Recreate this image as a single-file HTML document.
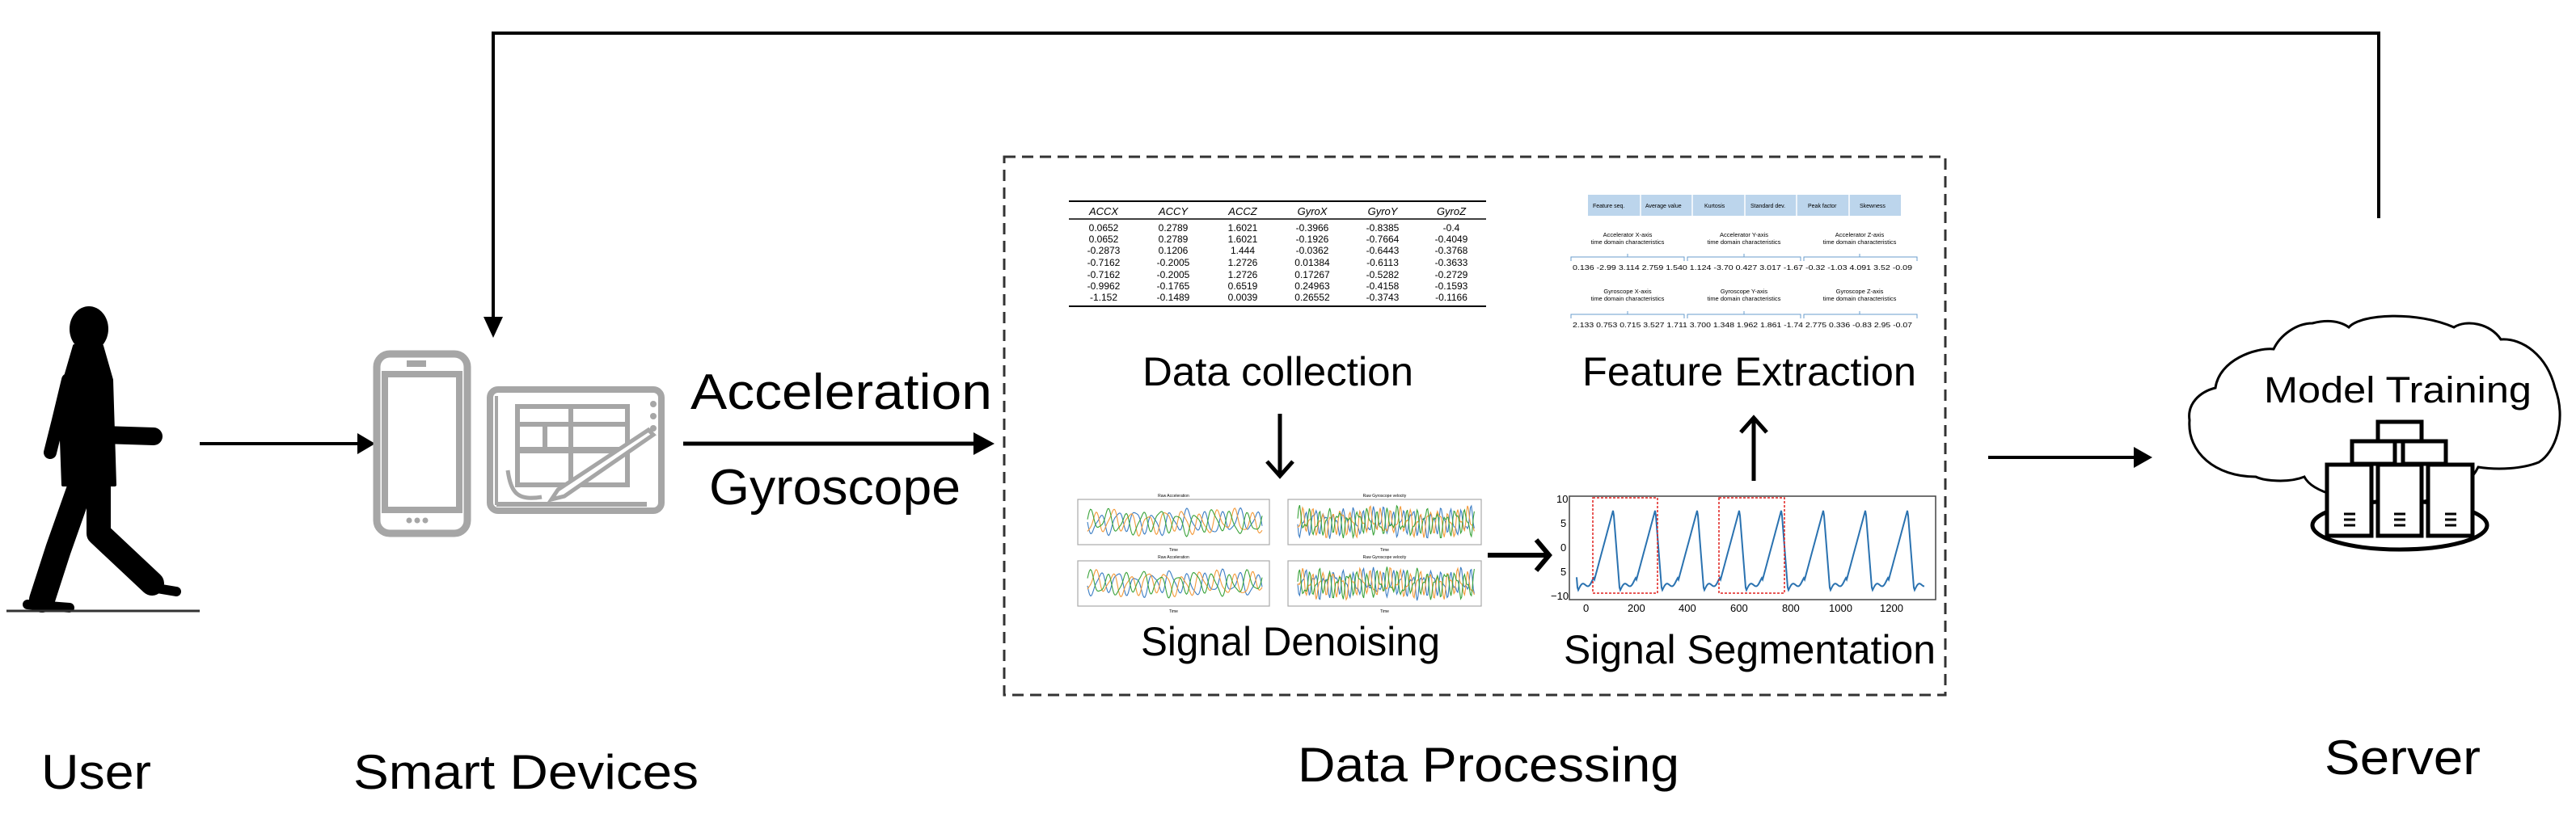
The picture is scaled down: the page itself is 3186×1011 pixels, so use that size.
<!DOCTYPE html>
<html><head><meta charset="utf-8"><style>
html,body{margin:0;padding:0;background:#fff;}
svg{display:block;}
text{font-family:"Liberation Sans",sans-serif;fill:#000;}
.ser{font-family:"Liberation Serif",serif;}
</style></head><body>
<svg id="s" width="3186" height="1011" viewBox="0 0 3186 1011" xmlns="http://www.w3.org/2000/svg">
<rect width="3186" height="1011" fill="#fff"/>

<!-- feedback line -->
<polyline points="2942,270 2942,41 610,41 610,400" fill="none" stroke="#000" stroke-width="4"/>
<path d="M598,392 L622,392 L610,418 z" fill="#000"/>

<!-- user silhouette -->
<g fill="#000" stroke="#000" stroke-linecap="round" stroke-linejoin="round">
<ellipse cx="110" cy="407" rx="24" ry="28" stroke="none"/>
<path d="M92,428 L126,428 L138,470 L142,600 L78,600 L74,490 z" stroke-width="4"/>
<path d="M122,470 L126,538 L190,540" fill="none" stroke-width="22"/>
<path d="M84,470 L72,520 L62,560" fill="none" stroke-width="16"/>
<path d="M102,595 L72,680 L52,742" fill="none" stroke-width="32"/>
<path d="M34,748 L86,752" fill="none" stroke-width="12"/>
<path d="M122,595 L122,660 L188,722" fill="none" stroke-width="30"/>
<path d="M182,726 L218,732" fill="none" stroke-width="12"/>
</g>
<line x1="8" y1="756" x2="247" y2="756" stroke="#333" stroke-width="3"/>

<!-- user -> device -->
<line x1="247" y1="549" x2="448" y2="549" stroke="#000" stroke-width="4"/>
<path d="M442,536 L464,549 L442,562 z" fill="#000"/>

<!-- phone -->
<rect x="466" y="438" width="112" height="222" rx="16" fill="none" stroke="#a6a6a6" stroke-width="9"/>
<rect x="476" y="463" width="92" height="168" fill="none" stroke="#a6a6a6" stroke-width="8"/>
<rect x="503" y="446" width="24" height="8" fill="#a6a6a6"/>
<circle cx="506" cy="644" r="3.5" fill="#a6a6a6"/><circle cx="516" cy="644" r="3.5" fill="#a6a6a6"/><circle cx="526" cy="644" r="3.5" fill="#a6a6a6"/>
<!-- tablet -->
<rect x="606" y="482" width="212" height="150" rx="10" fill="none" stroke="#a6a6a6" stroke-width="8"/>
<line x1="614" y1="490" x2="614" y2="625" stroke="#a6a6a6" stroke-width="4"/>
<line x1="614" y1="624" x2="800" y2="624" stroke="#a6a6a6" stroke-width="6"/>
<rect x="640" y="503" width="136" height="97" fill="none" stroke="#a6a6a6" stroke-width="6"/>
<line x1="640" y1="525" x2="776" y2="525" stroke="#a6a6a6" stroke-width="6"/>
<line x1="640" y1="557" x2="776" y2="557" stroke="#a6a6a6" stroke-width="8"/>
<line x1="706" y1="503" x2="706" y2="600" stroke="#a6a6a6" stroke-width="6"/>
<line x1="674" y1="525" x2="674" y2="557" stroke="#a6a6a6" stroke-width="6"/>
<circle cx="808" cy="500" r="4" fill="#a6a6a6"/><circle cx="808" cy="515" r="4" fill="#a6a6a6"/><circle cx="808" cy="530" r="4" fill="#a6a6a6"/>
<path d="M628,582 C632,610 640,620 670,615" fill="none" stroke="#a6a6a6" stroke-width="5"/>
<path d="M690,606 L802,532 L808,538 L698,614 L682,618 z" fill="#fff" stroke="#a6a6a6" stroke-width="5"/>

<!-- Acceleration / Gyroscope -->
<text x="854" y="506" font-size="62" textLength="373" lengthAdjust="spacingAndGlyphs">Acceleration</text>
<text x="877" y="624" font-size="62" textLength="311" lengthAdjust="spacingAndGlyphs">Gyroscope</text>
<line x1="845" y1="549" x2="1210" y2="549" stroke="#000" stroke-width="5"/>
<path d="M1204,535 L1230,549 L1204,563 z" fill="#000"/>

<!-- dashed box -->
<rect x="1242" y="194" width="1164" height="666" fill="none" stroke="#333" stroke-width="3" stroke-dasharray="14,8"/>

<!-- table -->
<g id="tbl" class="ser" font-size="13">
<line x1="1322" y1="249" x2="1838" y2="249" stroke="#000" stroke-width="2"/>
<line x1="1322" y1="271" x2="1838" y2="271" stroke="#000" stroke-width="1.5"/>
<line x1="1322" y1="379" x2="1838" y2="379" stroke="#000" stroke-width="2"/>
</g>

<text x="1413" y="477" font-size="50" textLength="335" lengthAdjust="spacingAndGlyphs">Data collection</text>
<line x1="1583" y1="512" x2="1583" y2="587" stroke="#000" stroke-width="5"/>
<polyline points="1567,571 1583,589 1599,571" fill="none" stroke="#000" stroke-width="5"/>

<!-- denoise plots -->
<g id="den"></g>
<text x="1411" y="811" font-size="50" textLength="370" lengthAdjust="spacingAndGlyphs">Signal Denoising</text>
<line x1="1840" y1="687" x2="1912" y2="687" stroke="#000" stroke-width="6"/>
<polyline points="1900,668 1916,687 1900,706" fill="none" stroke="#000" stroke-width="6"/>

<!-- segmentation plot -->
<rect x="1941" y="614" width="453" height="128" fill="none" stroke="#444" stroke-width="1.5"/>
<g font-size="13" fill="#000">
<text x="1925" y="622">10</text><text x="1930" y="652">5</text><text x="1930" y="682">0</text><text x="1930" y="712">5</text><text x="1918" y="742">−10</text>
<text x="1958" y="757">0</text><text x="2013" y="757">200</text><text x="2076" y="757">400</text><text x="2140" y="757">600</text><text x="2204" y="757">800</text><text x="2262" y="757">1000</text><text x="2325" y="757">1200</text>
</g>
<polyline id="seg" fill="none" stroke="#2a72b0" stroke-width="2"/>
<rect x="1970" y="616" width="80" height="118" fill="none" stroke="#e0201f" stroke-width="1.5" stroke-dasharray="3,2"/>
<rect x="2126" y="616" width="81" height="118" fill="none" stroke="#e0201f" stroke-width="1.5" stroke-dasharray="3,2"/>
<text x="1934" y="821" font-size="50" textLength="460" lengthAdjust="spacingAndGlyphs">Signal Segmentation</text>
<line x1="2169" y1="519" x2="2169" y2="595" stroke="#000" stroke-width="5"/>
<polyline points="2153,535 2169,517 2185,535" fill="none" stroke="#000" stroke-width="5"/>

<!-- feature extraction image -->
<rect x="1964" y="241" width="387" height="26" fill="#bcd5ec"/>
<g stroke="#fff" stroke-width="1.5"><line x1="2029" y1="241" x2="2029" y2="267"/><line x1="2093" y1="241" x2="2093" y2="267"/><line x1="2158" y1="241" x2="2158" y2="267"/><line x1="2222" y1="241" x2="2222" y2="267"/><line x1="2287" y1="241" x2="2287" y2="267"/></g>
<g font-size="7">
<text x="1970" y="257" fill="#e8f0fa">Feature seq.</text><text x="2035" y="257" fill="#e8f0fa">Average value</text><text x="2108" y="257" fill="#e8f0fa">Kurtosis</text><text x="2165" y="257" fill="#e8f0fa">Standard dev.</text><text x="2236" y="257" fill="#e8f0fa">Peak factor</text><text x="2300" y="257" fill="#e8f0fa">Skewness</text>
</g>
<g font-size="7.5" text-anchor="middle">
<text x="2013" y="293">Accelerator X-axis</text><text x="2013" y="302">time domain characteristics</text>
<text x="2157" y="293">Accelerator Y-axis</text><text x="2157" y="302">time domain characteristics</text>
<text x="2300" y="293">Accelerator Z-axis</text><text x="2300" y="302">time domain characteristics</text>
<text x="2013" y="363">Gyroscope X-axis</text><text x="2013" y="372">time domain characteristics</text>
<text x="2157" y="363">Gyroscope Y-axis</text><text x="2157" y="372">time domain characteristics</text>
<text x="2300" y="363">Gyroscope Z-axis</text><text x="2300" y="372">time domain characteristics</text>
</g>
<g fill="none" stroke="#6a9ccc" stroke-width="1">
<path d="M1943,323 V318 H2083 V323 M2013,318 V314"/><path d="M2087,323 V318 H2227 V323 M2157,318 V314"/><path d="M2231,323 V318 H2371 V323 M2300,318 V314"/>
<path d="M1943,394 V389 H2083 V394 M2013,389 V385"/><path d="M2087,394 V389 H2227 V394 M2157,389 V385"/><path d="M2231,394 V389 H2371 V394 M2300,389 V385"/>
</g>
<text x="1945" y="334" font-size="8" textLength="420" lengthAdjust="spacingAndGlyphs">0.136   -2.99   3.114   2.759   1.540   1.124   -3.70   0.427   3.017   -1.67   -0.32   -1.03   4.091   3.52   -0.09</text>
<text x="1945" y="405" font-size="8" textLength="420" lengthAdjust="spacingAndGlyphs">2.133   0.753   0.715   3.527   1.711   3.700   1.348   1.962   1.861   -1.74   2.775   0.336   -0.83   2.95   -0.07</text>

<text x="1957" y="477" font-size="50" textLength="413" lengthAdjust="spacingAndGlyphs">Feature Extraction</text>

<!-- to server -->
<line x1="2459" y1="566" x2="2645" y2="566" stroke="#000" stroke-width="4"/>
<path d="M2639,553 L2662,566 L2639,579 z" fill="#000"/>

<!-- cloud -->
<path d="M2740,480 C2745,445 2790,430 2812,432 C2820,415 2840,400 2860,400 C2880,395 2895,398 2905,405 C2920,388 2990,385 3035,405 C3050,395 3080,400 3093,420 C3120,418 3150,440 3160,480 C3175,520 3160,560 3140,572 C3120,580 3090,582 3065,578 C3050,610 3000,627 2950,622 C2905,620 2860,610 2850,590 C2830,598 2800,595 2790,590 C2740,590 2705,560 2708,520 C2705,500 2720,485 2740,480 z" fill="#fff" stroke="#000" stroke-width="3"/>
<text x="2800" y="498" font-size="45" textLength="331" lengthAdjust="spacingAndGlyphs">Model Training</text>
<ellipse cx="2968" cy="650" rx="108" ry="30" fill="none" stroke="#000" stroke-width="5"/>
<g fill="#fff" stroke="#000" stroke-width="5">
<rect x="2941" y="522" width="54" height="24"/>
<rect x="2909" y="546" width="53" height="28"/><rect x="2972" y="546" width="53" height="28"/>
<rect x="2878" y="575" width="55" height="88"/><rect x="2941" y="575" width="54" height="88"/><rect x="3003" y="575" width="55" height="88"/>
</g>
<g stroke="#000" stroke-width="3">
<line x1="2899" y1="636" x2="2913" y2="636"/><line x1="2899" y1="643" x2="2913" y2="643"/><line x1="2899" y1="650" x2="2913" y2="650"/>
<line x1="2961" y1="636" x2="2975" y2="636"/><line x1="2961" y1="643" x2="2975" y2="643"/><line x1="2961" y1="650" x2="2975" y2="650"/>
<line x1="3024" y1="636" x2="3038" y2="636"/><line x1="3024" y1="643" x2="3038" y2="643"/><line x1="3024" y1="650" x2="3038" y2="650"/>
</g>

<!-- bottom labels -->
<text x="51" y="976" font-size="60" textLength="136" lengthAdjust="spacingAndGlyphs">User</text>
<text x="437" y="976" font-size="60" textLength="427" lengthAdjust="spacingAndGlyphs">Smart Devices</text>
<text x="1605" y="967" font-size="60" textLength="472" lengthAdjust="spacingAndGlyphs">Data Processing</text>
<text x="2875" y="958" font-size="60" textLength="193" lengthAdjust="spacingAndGlyphs">Server</text>
</svg>
<script>
(function(){
var NS="http://www.w3.org/2000/svg";
function el(t,a,p){var e=document.createElementNS(NS,t);for(var k in a)e.setAttribute(k,a[k]);p.appendChild(e);return e;}
var tbl=document.getElementById('tbl');
var cx=[1365,1451,1537,1623,1710,1795];
var hd=['ACC','ACC','ACC','Gyro','Gyro','Gyro'],sb=['X','Y','Z','X','Y','Z'];
for(var i=0;i<6;i++){var t=el('text',{x:cx[i],y:266,'text-anchor':'middle','font-style':'italic','font-size':13},tbl);t.textContent=hd[i]+sb[i];}
var rows=[["0.0652","0.2789","1.6021","-0.3966","-0.8385","-0.4"],["0.0652","0.2789","1.6021","-0.1926","-0.7664","-0.4049"],["-0.2873","0.1206","1.444","-0.0362","-0.6443","-0.3768"],["-0.7162","-0.2005","1.2726","0.01384","-0.6113","-0.3633"],["-0.7162","-0.2005","1.2726","0.17267","-0.5282","-0.2729"],["-0.9962","-0.1765","0.6519","0.24963","-0.4158","-0.1593"],["-1.152","-0.1489","0.0039","0.26552","-0.3743","-0.1166"]];
var ry=[286,300,314,329,344,358,372];
rows.forEach(function(r,j){r.forEach(function(v,i){var t=el('text',{x:cx[i],y:ry[j],'text-anchor':'middle','font-size':12},tbl);t.textContent=v;});});
var den=document.getElementById('den');
var panels=[[1333,618,237,56],[1593,618,239,56],[1333,694,237,56],[1593,694,239,56]];
var cols=['#3b7dc4','#f39a3a','#3aa33a'];
panels.forEach(function(p,k){
 el('rect',{x:p[0],y:p[1],width:p[2],height:p[3],fill:'#fff',stroke:'#aaa','stroke-width':1.2},den);
 var tt=el('text',{x:p[0]+p[2]/2,y:p[1]-3,'text-anchor':'middle','font-size':5,fill:'#666'},den);tt.textContent=k%2?'Raw Gyroscope velocity':'Raw Acceleration';
 var ax=el('text',{x:p[0]+p[2]/2,y:p[1]+p[3]+8,'text-anchor':'middle','font-size':5,fill:'#666'},den);ax.textContent='Time';
 for(var c=0;c<3;c++){var pts=[];var fast=(k%2==1)?1.8:1;
  for(var x=0;x<=p[2]-20;x+=1.2){var ph=x/(p[2])*Math.PI*2*11*fast+c*1.8;
   var y=Math.sin(ph)*0.55+Math.sin(ph*1.9+c)*0.3*(k%2?1:0.5)+Math.sin(ph*0.31+k+c)*0.15;
   pts.push((p[0]+12+x).toFixed(1)+','+(p[1]+p[3]/2+y*p[3]*0.38).toFixed(1));}
  el('polyline',{points:pts.join(' '),fill:'none',stroke:cols[c],'stroke-width':1.1},den);}
});
var pts=[];
for(var x=0;x<=430;x+=1){
 var per=52,ph=((x+30)%per)/per;var y;
 if(ph<0.45) y=-6+ (ph/0.45)*14; else if(ph<0.6) y=8-((ph-0.45)/0.15)*16; else y=-8+((ph-0.6)/0.4)*2+Math.sin(ph*20)*0.6;
 pts.push((1950+x)+','+(680-y*6.2).toFixed(1));
}
document.getElementById('seg').setAttribute('points',pts.join(' '));
})();
</script>
</body></html>
